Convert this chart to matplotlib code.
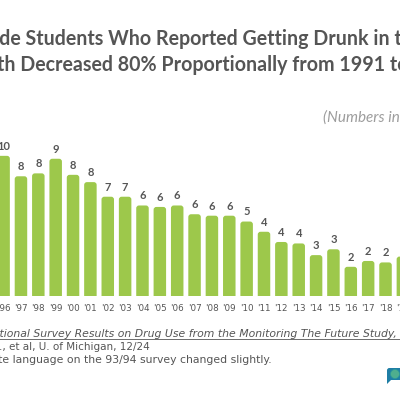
import matplotlib
matplotlib.use("Agg")
import matplotlib.pyplot as plt
from matplotlib.patches import FancyBboxPatch, Circle, Polygon
from matplotlib.lines import Line2D

# Data: % of 8th graders drunk in past 30 days (visible part of the chart)
years = ["'96", "'97", "'98", "'99", "'00", "'01", "'02", "'03", "'04", "'05", "'06", "'07",
         "'08", "'09", "'10", "'11", "'12", "'13", "'14", "'15", "'16", "'17", "'18", "'19"]
values = [9.6, 8.2, 8.4, 9.4, 8.3, 7.8, 6.8, 6.8, 6.2, 6.1, 6.2, 5.6,
          5.5, 5.5, 5.1, 4.4, 3.7, 3.6, 2.8, 3.2, 2.0, 2.4, 2.3, 2.7]

title1 = "Percentage of 8th Grade Students Who Reported Getting Drunk in the Past"
title2 = "Month Decreased 80% Proportionally from 1991 to 2024"
subtitle = "(Numbers in Percentages)"
note1 = "Source: National Survey Results on Drug Use from the Monitoring The Future Study, 1975-2024"
note2 = "Johnston, L.D., et al, U. of Michigan, 12/24"
note3 = "*Note: Appropriate language on the 93/94 survey changed slightly."

bar_color = "#9DC84B"
text_color = "#555555"

W = H = 400
fig = plt.figure(figsize=(4, 4), dpi=100)
renderer = fig.canvas.get_renderer()

# axes wider than the figure, chart is a crop of a bigger slide
x0, step = 3.6, 17.36
left_px = x0 - step * 1.0
ax = fig.add_axes([left_px / W, (H - 296) / H, step * 24 / W, 175.2 / H])
x = list(range(len(years)))
bars = ax.bar(x, values, width=0.72, color=bar_color)
# rounded tops
for r in bars:
    r.set_visible(False)
    ax.add_patch(FancyBboxPatch((r.get_x(), -0.5), r.get_width(), r.get_height() + 0.5,
                                boxstyle="round,pad=0,rounding_size=0.16",
                                mutation_aspect=1.2, facecolor=bar_color,
                                edgecolor="none"))
for xi, v in zip(x, values):
    ax.annotate(f"{v:.0f}", (xi, v), xytext=(0, 3), textcoords="offset points",
                ha="center", va="bottom", fontsize=8, fontweight="bold",
                color="#565656", family="Lato")
ax.set_xlim(-1, 23)
ax.set_ylim(0, 12)
ax.set_xticks(x)
ax.set_xticklabels(years, fontsize=6.3, color=text_color)
ax.tick_params(axis="x", length=0, pad=6)
ax.set_yticks([])
for s in ax.spines.values():
    s.set_visible(False)
ax.patch.set_visible(False)


def place(text, word, x_px, base_px, **kw):
    # put the full text so that `word` starts at x_px
    head = text[:text.index(word) + len(word)]
    t1 = fig.text(0, 0, head, **kw)
    t2 = fig.text(0, 0, word, **kw)
    off = t1.get_window_extent(renderer).width - t2.get_window_extent(renderer).width
    t1.remove()
    t2.remove()
    return fig.text((x_px - off) / W, (H - base_px) / H, text, ha="left",
                    va="baseline", **kw)


tkw = dict(fontsize=14.1, fontweight="bold", color=text_color, family="Lato")
place(title1, "Students", 25, 45, **tkw)
place(title2, "Decreased", 20, 71, **tkw)
fig.text(323 / W, (H - 121.7) / H, subtitle, ha="left", va="baseline",
         fontsize=11, style="italic", color="#9d9d9d", family="Lato")

nkw = dict(color=text_color, family="DejaVu Sans")
n1 = place(note1, "Survey", 33, 336.7, style="italic", fontsize=7.85, **nkw)
bb = n1.get_window_extent(renderer)
fig.add_artist(Line2D([bb.x0 / W, bb.x1 / W], [(H - 338.5) / H] * 2,
                      color=text_color, linewidth=0.6))
place(note2, "al,", 23, 349.5, fontsize=7.5, **nkw)
place(note3, "language", 13, 362.7, fontsize=7.8, **nkw)

# logo in the corner (speech bubble)
fig.add_artist(FancyBboxPatch((387 / W, (H - 380) / H), 16 / W, 12 / H,
                              boxstyle="round,pad=0,rounding_size=0.006",
                              facecolor="#1f7ea5", edgecolor="none"))
fig.add_artist(Polygon([[387 / W, (H - 376) / H], [387 / W, (H - 384) / H],
                        [392 / W, (H - 379) / H]], closed=True,
                       facecolor="#1f7ea5", edgecolor="none"))
fig.add_artist(Circle((395 / W, (H - 374) / H), 4.5 / W, facecolor="#4fae8e",
                      edgecolor="#2b9a9a", linewidth=0.5))

fig.savefig("out.png", dpi=100)
